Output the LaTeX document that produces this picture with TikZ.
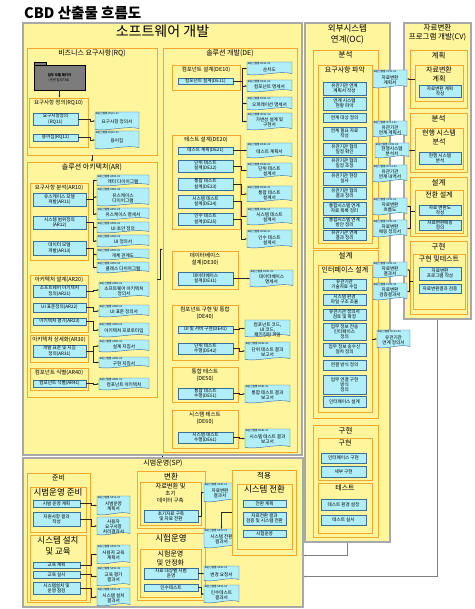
\documentclass[tikz,border=0pt]{standalone}
\usepackage{fontspec}
\setmainfont{Noto Sans CJK KR}
\usepackage{tikz}
\usetikzlibrary{arrows.meta}

\definecolor{boxyellow}{HTML}{FFF59C}
\definecolor{secline}{HTML}{F0A830}
\definecolor{outline}{HTML}{A8A8A8}
\definecolor{leafcyan}{HTML}{B0EEF8}
\definecolor{leafline}{HTML}{3C6E9C}
\definecolor{darkbox}{HTML}{7C7C7C}

\newcommand{\hsz}{\fontsize{2.6}{3}\selectfont}
\newcommand{\lsz}{\fontsize{4.6}{5.1}\selectfont}

% box from corner to corner: style, name, x1, y1, x2, y2, text
\newcommand{\putbox}[7]{%
  \node[#1, minimum width={#5pt-#3pt}, minimum height={#6pt-#4pt}] (#2) at ({(#3+#5)/2},{(#4+#6)/2}) {#7};}
% section box with its title on top
\newcommand{\putsec}[8]{%
  \putbox{#1}{#3}{#4}{#5}{#6}{#7}{}
  \node[sectitle, #2] (#3-t) at ([yshift=-1.5pt]#3.north) {#8};}
% document with wavy bottom: name, x1, y1, x2, y2, code, text
\newcommand{\putdoc}[7]{%
  \draw[docshape] (#2,#3) -- (#4,#3) -- (#4,{#5-1.5}) .. controls ({#4-0.3*(#4-#2)},{#5-4.5}) and ({#2+0.3*(#4-#2)},{#5+1.5}) .. (#2,{#5-0.5}) -- cycle;
  \node[docbox, minimum width={#4pt-#2pt}, minimum height={#5pt-#3pt}] (#1) at ({(#2+#4)/2},{(#3+#5)/2}) {};
  \node[dochead] (#1-h) at ([shift={(0.6pt,-0.4pt)}]#1.north west) {#6};
  \node[doctext] (#1-x) at ([yshift=-1pt]#1.center) {#7};}

\tikzset{
  outerbox/.style={draw=outline, fill=boxyellow, line width=1.2pt},
  secbox/.style={draw=secline, fill=boxyellow, line width=0.8pt},
  leaf/.style={draw=leafline, fill=leafcyan, line width=0.45pt, inner sep=0pt, align=center, font=\lsz},
  bmbox/.style={draw=black, fill=darkbox, line width=0.5pt, inner sep=1pt, align=left, font=\fontsize{3.4}{5}\selectfont},
  sectitle/.style={anchor=north, inner sep=0.5pt, align=center},
  ttlh/.style={font=\fontsize{14}{16}\selectfont},
  ttlb/.style={font=\fontsize{8.5}{10.5}\selectfont},
  ttlm/.style={font=\fontsize{7.5}{9}\selectfont},
  ttlr/.style={font=\fontsize{7}{8.5}\selectfont},
  ttls/.style={font=\fontsize{5.5}{6.8}\selectfont},
  docshape/.style={draw=leafline, fill=leafcyan, line width=0.45pt},
  docbox/.style={inner sep=0pt},
  dochead/.style={anchor=north west, inner sep=0pt, font=\hsz},
  doctext/.style={inner sep=0pt, align=center, font=\lsz},
  link/.style={-{Stealth[length=2.2pt,width=1.8pt]}, line width=0.45pt, draw=black!85}
}

\begin{document}
\begin{tikzpicture}[x=1pt,y=-1pt]
  \useasboundingbox (0,0) rectangle (474,609);
  \node[font=\fontsize{14.5}{16}\selectfont\bfseries, anchor=west, inner sep=0pt] (title) at (24,13) {CBD 산출물 흐름도};

  % outer boxes
  \putsec{outerbox}{ttlh}{sw}{23}{23}{302}{455}{소프트웨어 개발}
  \putsec{outerbox}{ttlb}{oc}{305}{23}{390}{542}{외부시스템\\연계(OC)}
  \putsec{outerbox}{ttlm}{cv}{404}{23}{471}{319}{자료변환\\프로그램 개발(CV)}
  \putsec{outerbox}{ttlr}{sp}{23}{458}{303}{607}{시범운영(SP)}

  % business requirements
  \putsec{secbox}{ttlr}{rq}{27}{48}{157}{155}{비즈니스 요구사항(RQ)}
  \draw[fill=darkbox, draw=black, line width=0.5pt] (34,62.5) rectangle (46,65);
  \putbox{bmbox}{rqbm}{34}{65}{85}{90}{\textbf{업무 모델 패키지}\\ • 관련 업무자료}
  \putsec{secbox}{ttls}{rq10}{29}{98}{88}{147}{요구사항 정의(RQ10)}
  \putbox{leaf}{rq11}{33}{113}{78}{125}{요구사항정의\\(RQ11)}
  \putbox{leaf}{rq12}{33}{134}{78}{141}{용어집(RQ12)}
  \putdoc{drq11}{95}{112}{139}{130}{표준산출물-RQ11-01}{요구사항 정의서}
  \putdoc{drq12}{95}{131}{139}{149}{표준산출물-RQ12-01}{용어집}

  % solution architecture
  \putsec{secbox}{ttlr}{ar}{27}{162}{157}{397}{솔루션 아키텍처(AR)}
  \putsec{secbox}{ttls}{ar10}{30}{183}{88}{260}{요구사항 분석(AR10)}
  \putbox{leaf}{ar11}{33}{193}{86}{206}{유스케이스 모델\\개발(AR11)}
  \putbox{leaf}{ar12}{33}{216}{86}{229}{시스템 범위정의\\(AR12)}
  \putbox{leaf}{ar13}{33}{241}{86}{255}{데이터 모델\\개발(AR13)}
  \putdoc{dar1}{97}{175}{149}{186}{표준산출물-AR11-01}{액터 다이어그램}
  \putdoc{dar2}{97}{188}{149}{206}{표준산출물-AR11-02}{유스케이스\\다이어그램}
  \putdoc{dar3}{97}{208}{149}{220}{표준산출물-AR11-03}{유스케이스 명세서}
  \putdoc{dar4}{97}{222}{149}{233}{표준산출물-AR12-01}{UI 초안 정의}
  \putdoc{dar5}{97}{235}{149}{247}{표준산출물-AR12-02}{UI 정의서}
  \putdoc{dar6}{97}{249}{149}{260}{표준산출물-AR13-01}{개체 관계도}
  \putdoc{dar7}{97}{262}{149}{273}{표준산출물-AR13-02}{클래스 다이어그램}

  \putsec{secbox}{ttls}{ar20}{30}{275}{88}{332}{아키텍처 설계(AR20)}
  \putbox{leaf}{ar21}{33}{285}{86}{297}{소프트웨어 아키텍처\\정의(AR21)}
  \putbox{leaf}{ar22}{33}{303}{86}{312}{UI 표준정의(AR22)}
  \putbox{leaf}{ar23}{33}{318}{86}{325}{아키텍처 평가(AR23)}
  \putdoc{dar21}{99}{282}{149}{298}{표준산출물-AR21-01}{소프트웨어 아키텍처\\정의서}
  \putdoc{dar22}{99}{305}{149}{317}{표준산출물-AR22-01}{UI 표준 정의서}
  \putdoc{dar23}{99}{323}{149}{337}{표준산출물-AR23-01}{아키텍처 프로토타입}

  \putsec{secbox}{ttls}{ar30}{30}{335}{88}{362}{아키텍처 상세화(AR30)}
  \putbox{leaf}{ar31}{33}{345}{86}{357}{개발 표준 및 지침\\정의(AR31)}
  \putdoc{dar31}{99}{340}{149}{352}{표준산출물-AR31-01}{설계 지침서}
  \putdoc{dar32}{99}{357}{149}{368}{표준산출물-AR31-02}{구현 지침서}

  \putsec{secbox}{ttls}{ar40}{30}{368}{88}{390}{컴포넌트 식별(AR40)}
  \putbox{leaf}{ar41}{33}{380}{86}{387}{컴포넌트 식별(AR41)}
  \putdoc{dar41}{99}{378}{149}{390}{표준산출물-AR41-01}{컴포넌트 아키텍처}

  % solution development
  \putsec{secbox}{ttlr}{de}{163}{48}{297}{452}{솔루션 개발(DE)}
  \putsec{secbox}{ttls}{de10}{172}{65}{240}{90}{컴포넌트 설계(DE10)}
  \putbox{leaf}{de11}{178}{78}{233}{84}{컴포넌트 설계(DE11)}
  \putdoc{dde1}{247}{62}{292}{75}{표준산출물-DE11-01}{순차도}
  \putdoc{dde2}{247}{80}{292}{92}{표준산출물-DE11-02}{컴포넌트 명세서}
  \putdoc{dde3}{247}{97}{292}{110}{표준산출물-DE11-03}{오퍼레이션 명세서}
  \putdoc{dde4}{247}{113}{292}{130}{표준산출물-DE11-04}{가변성 설계 및\\구현서}

  \putsec{secbox}{ttls}{de20}{172}{135}{240}{229}{테스트 설계(DE20)}
  \putbox{leaf}{de21}{178}{147}{233}{154}{테스트 계획(DE21)}
  \putbox{leaf}{de22}{178}{160}{233}{172}{단위 테스트\\설계(DE22)}
  \putbox{leaf}{de23}{178}{178}{233}{190}{통합 테스트\\설계(DE23)}
  \putbox{leaf}{de24}{178}{195}{233}{208}{시스템 테스트\\설계(DE24)}
  \putbox{leaf}{de25}{178}{213}{233}{225}{인수 테스트\\설계(DE25)}
  \putdoc{dde21}{247}{143}{292}{158}{표준산출물-DE21-01}{테스트 계획서}
  \putdoc{dde22}{247}{163}{292}{178}{표준산출물-DE22-01}{단위 테스트\\설계서}
  \putdoc{dde23}{247}{186}{292}{202}{표준산출물-DE23-01}{통합 테스트\\설계서}
  \putdoc{dde24}{247}{208}{292}{225}{표준산출물-DE24-01}{시스템 테스트\\설계서}
  \putdoc{dde25}{247}{230}{292}{248}{표준산출물-DE25-01}{인수 테스트\\설계서}

  \putsec{secbox}{ttls}{de30}{172}{251}{238}{289}{데이터베이스\\설계(DE30)}
  \putbox{leaf}{de31}{178}{272}{233}{285}{데이터베이스\\설계(DE31)}
  \putdoc{dde31}{250}{270}{293}{287}{표준산출물-DE31-01}{데이터베이스\\명세서}

  \putsec{secbox}{ttls}{de40}{172}{305}{238}{360}{컴포넌트 구현 및 통합\\(DE40)}
  \putbox{leaf}{de41}{178}{326}{233}{333}{UI 및 서버 구현(DE41)}
  \putbox{leaf}{de42}{178}{343}{233}{354}{단위 테스트\\수행(DE42)}
  \putdoc{dde41}{245}{320}{290}{337}{}{컴포넌트 코드,\\UI 코드,\\패키징된 파일}
  \putdoc{dde42}{245}{342}{290}{360}{표준산출물-DE42-01}{단위 테스트 결과\\보고서}

  \putsec{secbox}{ttls}{de50}{172}{367}{238}{402}{통합 테스트\\(DE50)}
  \putbox{leaf}{de51}{178}{388}{233}{399}{통합 테스트\\수행(DE51)}
  \putdoc{dde51}{245}{385}{290}{403}{표준산출물-DE51-01}{통합 테스트 결과\\보고서}

  \putsec{secbox}{ttls}{de60}{172}{410}{238}{448}{시스템 테스트\\(DE60)}
  \putbox{leaf}{de61}{178}{432}{233}{443}{시스템 테스트\\수행(DE61)}
  \putdoc{dde61}{245}{429}{290}{448}{표준산출물-DE61-01}{시스템 테스트 결과\\보고서}

  % external system link
  \putsec{secbox}{ttlm}{oc-an}{313}{50}{378}{248}{분석}
  \putsec{secbox}{ttlr}{oc-req}{318}{65}{372}{243}{요구사항 파악}
  \putbox{leaf}{oc1}{323}{82}{366}{95}{유관기관 연계\\계획서 작성}
  \putbox{leaf}{oc2}{323}{97}{366}{110}{연계 시스템\\현황 파악}
  \putbox{leaf}{oc3}{323}{113}{366}{122}{연계 대상 정의}
  \putbox{leaf}{oc4}{323}{127}{366}{140}{연계 필요 자료\\작성}
  \putbox{leaf}{oc5}{323}{143}{366}{155}{유관기관 협의\\일정 확인}
  \putbox{leaf}{oc6}{323}{157}{366}{169}{유관기관 협의\\일정 조정}
  \putbox{leaf}{oc7}{323}{172}{366}{185}{유관기관 현장\\실사}
  \putbox{leaf}{oc8}{323}{187}{366}{199}{유관기관 협의\\결과 정리}
  \putbox{leaf}{oc9}{323}{202}{366}{215}{통합시스템 연계\\자료 목록 정리}
  \putbox{leaf}{oc10}{323}{217}{366}{228}{통합시스템 연계\\방안 정리}
  \putbox{leaf}{oc11}{323}{230}{366}{240}{유관기관 연계\\결과 정리}

  \putsec{secbox}{ttlm}{oc-ds}{313}{250}{378}{418}{설계}
  \putsec{secbox}{ttlr}{oc-if}{318}{265}{372}{412}{인터페이스 설계}
  \putbox{leaf}{oi1}{323}{279}{366}{290}{유관기관\\기술자료 수집}
  \putbox{leaf}{oi2}{323}{294}{366}{305}{시스템 환경\\파일 구조 조율}
  \putbox{leaf}{oi3}{323}{309}{366}{320}{유관기관 정의서\\검토 및 확정}
  \putbox{leaf}{oi4}{323}{323}{366}{340}{업무 정보 전송\\인터페이스\\정의}
  \putbox{leaf}{oi5}{323}{343}{366}{356}{업무 정보 송수신\\절차 정의}
  \putbox{leaf}{oi6}{323}{360}{366}{370}{연결 방식 정의}
  \putbox{leaf}{oi7}{323}{375}{366}{394}{업무 연결 구현\\방식\\정의}
  \putbox{leaf}{oi8}{323}{396}{366}{407}{인터페이스 설계}

  \putsec{secbox}{ttlm}{oc-im}{313}{425}{378}{537}{구현}
  \putsec{secbox}{ttlr}{oc-im1}{318}{438}{372}{480}{구현}
  \putbox{leaf}{om1}{321}{453}{366}{463}{인터페이스 구현}
  \putbox{leaf}{om2}{321}{466}{366}{477}{세부 구현}
  \putsec{secbox}{ttlr}{oc-ts}{318}{483}{372}{533}{테스트}
  \putbox{leaf}{ot1}{321}{499}{366}{510}{테스트 환경 설정}
  \putbox{leaf}{ot2}{321}{515}{366}{525}{테스트 실시}

  % data conversion
  \putsec{secbox}{ttlm}{cv-pl}{410}{50}{467}{108}{계획}
  \putsec{secbox}{ttlr}{cv-pl1}{415}{65}{463}{101}{자료변환\\계획}
  \putbox{leaf}{cp1}{419}{85}{461}{97}{자료변환 계획\\작성}
  \putsec{secbox}{ttlm}{cv-an}{410}{113}{467}{172}{분석}
  \putsec{secbox}{ttlr}{cv-an1}{415}{128}{463}{169}{현행 시스템\\분석}
  \putbox{leaf}{ca1}{419}{152}{461}{164}{현행 시스템\\분석}
  \putsec{secbox}{ttlm}{cv-ds}{410}{177}{467}{236}{설계}
  \putsec{secbox}{ttlr}{cv-ds1}{415}{190}{463}{233}{전환 설계}
  \putbox{leaf}{cd1}{419}{205}{461}{215}{자료 변환도\\작성}
  \putbox{leaf}{cd2}{419}{220}{461}{230}{자료변환매핑\\정의}
  \putsec{secbox}{ttlm}{cv-im}{410}{241}{467}{314}{구현}
  \putsec{secbox}{ttlr}{cv-im1}{413}{254}{465}{309}{구현 및테스트}
  \putbox{leaf}{ci1}{419}{267}{461}{280}{자료변환\\프로그램 작성}
  \putbox{leaf}{ci2}{419}{284}{461}{293}{자료변환결과 검증}

  % documents between OC and CV
  \putdoc{g1}{373}{70}{407}{88}{표준산출물-CV11-01}{자료변환\\계획서}
  \putdoc{g2}{373}{121}{407}{137}{표준산출물-OC11-01}{유관기관\\연계 계획서}
  \putdoc{g3}{375}{143}{409}{158}{표준산출물-CV21-01}{현행시스템\\분석서}
  \putdoc{g4}{373}{165}{407}{182}{표준산출물-OC12-01}{유관기관\\연계 내역서}
  \putdoc{g5}{373}{198}{407}{215}{표준산출물-CV31-01}{자료변환\\흐름도}
  \putdoc{g6}{373}{220}{407}{237}{표준산출물-CV31-02}{자료변환\\매핑 정의서}
  \putdoc{g7}{373}{262}{407}{278}{표준산출물-CV41-01}{자료변환\\결과서}
  \putdoc{g8}{373}{283}{407}{300}{표준산출물-CV41-02}{자료변환\\검증결과서}
  \putdoc{g9}{377}{330}{410}{348}{표준산출물-OC21-01}{유관기관\\연계 정의서}

  % pilot operation
  \putsec{secbox}{ttlr}{sp-pr}{27}{473}{90}{602}{준비}
  \putsec{secbox}{ttlb}{sp-pr1}{30}{487}{86}{532}{시범운영 준비}
  \putbox{leaf}{p1}{33}{500}{80}{507}{시범 운영 계획}
  \putbox{leaf}{p2}{33}{512}{80}{526}{지원사항 결과\\작성}
  \putsec{secbox}{ttlb}{sp-in}{30}{535}{86}{600}{시스템 설치\\및 교육}
  \putbox{leaf}{i1}{33}{562}{80}{568}{교육 계획}
  \putbox{leaf}{i2}{33}{571}{80}{578}{교육 실시}
  \putbox{leaf}{i3}{33}{582}{80}{594}{시스템설치 및\\운영 점검}
  \putdoc{dp1}{97}{496}{130}{515}{표준산출물-SP11-01}{시범운영\\계획서}
  \putdoc{dp2}{97}{517}{130}{535}{}{사용자\\요구사항\\처리결과서}
  \putdoc{dp3}{97}{545}{130}{564}{표준산출물-SP21-01}{사용자 교육\\계획서}
  \putdoc{dp4}{97}{567}{130}{586}{표준산출물-SP21-02}{교육 평가\\결과서}
  \putdoc{dp5}{97}{588}{130}{606}{표준산출물-SP21-03}{시스템 설치\\결과서}

  \putsec{secbox}{ttlm}{sp-cv}{137}{471}{205}{528}{변환}
  \putsec{secbox}{ttls}{sp-cv1}{140}{482}{201}{525}{\fontsize{6.2}{7.6}\selectfont 자료변환 및\\초기\\데이터 구축}
  \putbox{leaf}{v1}{144}{510}{198}{522}{초기자료 구축\\및 자료 전환}
  \putdoc{dv1}{204}{483}{236}{502}{표준산출물-SP31-01}{자료변환\\결과서}
  \putsec{secbox}{ttlb}{sp-op}{137}{533}{205}{600}{시험운영}
  \putsec{secbox}{ttlr}{sp-op1}{140}{549}{201}{597}{시험운영\\및 안정화}
  \putbox{leaf}{o1}{144}{568}{198}{579}{자료 대상별 시범\\운영}
  \putbox{leaf}{o2}{144}{584}{198}{591}{인수테스트}
  \putdoc{do1}{204}{529}{239}{548}{표준산출물-SP32-01}{시스템 전환\\결과서}
  \putdoc{do2}{204}{566}{239}{581}{표준산출물-SP41-01}{변경 요청서}
  \putdoc{do3}{204}{585}{239}{603}{표준산출물-SP41-02}{인수테스트\\결과서}

  \putsec{secbox}{ttlm}{sp-ap}{232}{470}{296}{555}{적용}
  \putsec{secbox}{ttlb}{sp-ap1}{237}{484}{292}{549}{시스템 전환}
  \putbox{leaf}{a1}{243}{500}{286}{507}{전환 계획}
  \putbox{leaf}{a2}{243}{512}{286}{525}{자료전환 결과\\검증 및 시스템 전환}
  \putbox{leaf}{a3}{243}{530}{286}{537}{시험운영}

  % connectors
  \draw[link] (rqbm.south) -- (rqbm.south |- rq10.north);
  \draw[link] (rq11.east) -- ++(12,0) |- (drq11.west);
  \draw[link] (rq12.east) -- ++(12,0) |- (drq12.west);
  \draw[link] (rq.south) -- (ar.north);

  \draw[link] (ar11.east) -- ++(7,0) |- (dar1.west);
  \draw[link] (ar11.east) -- ++(7,0) |- (dar2.west);
  \draw[link] (ar11.east) -- ++(7,0) |- (dar3.west);
  \draw[link] (ar12.east) -- ++(7,0) |- (dar4.west);
  \draw[link] (ar12.east) -- ++(7,0) |- (dar5.west);
  \draw[link] (ar13.east) -- ++(7,0) |- (dar6.west);
  \draw[link] (ar13.east) -- ++(7,0) |- (dar7.west);
  \draw[link] (ar21.east) -- ++(7,0) |- (dar21.west);
  \draw[link] (ar22.east) -- ++(7,0) |- (dar22.west);
  \draw[link] (ar23.east) -- ++(7,0) |- (dar23.west);
  \draw[link] (ar31.east) -- ++(7,0) |- (dar31.west);
  \draw[link] (ar31.east) -- ++(7,0) |- (dar32.west);
  \draw[link] (ar41.east) -- ++(7,0) |- (dar41.west);
  \draw[link] (ar.east) -- ++(3,0) |- ([yshift=30pt]ar.east -| de.west);

  \draw[link] (de11.east) -- ++(9,0) |- (dde1.west);
  \draw[link] (de11.east) -- ++(9,0) |- (dde2.west);
  \draw[link] (de11.east) -- ++(9,0) |- (dde3.west);
  \draw[link] (de11.east) -- ++(9,0) |- (dde4.west);
  \draw[link] (de21.east) -- (dde21.west);
  \draw[link] (de22.east) -- ++(8,0) |- (dde22.west);
  \draw[link] (de23.east) -- ++(8,0) |- (dde23.west);
  \draw[link] (de24.east) -- ++(8,0) |- (dde24.west);
  \draw[link] (de25.east) -- ++(8,0) |- (dde25.west);
  \draw[link] (de31.east) -- ++(8,0) |- (dde31.west);
  \draw[link] (de41.east) -- ++(6,0) |- (dde41.west);
  \draw[link] (de42.east) -- ++(6,0) |- (dde42.west);
  \draw[link] (de51.east) -- ++(6,0) |- (dde51.west);
  \draw[link] (de61.east) -- ++(6,0) |- (dde61.west);

  \draw[link] (cv-pl1.west |- g1.east) -- (g1.east);
  \draw[link] (cv-an1.west |- g3.east) -- (g3.east);
  \draw[link] (cv-ds1.west) -- ++(-4,0) |- (g5.east);
  \draw[link] (cv-ds1.west) -- ++(-4,0) |- (g6.east);
  \draw[link] (cv-im1.west) -- ++(-3,0) |- (g7.east);
  \draw[link] (cv-im1.west) -- ++(-3,0) |- (g8.east);
  \draw[link] (oc-if.east |- g9.west) -- (g9.west);

  \draw[link] (p1.east) -- ++(11,0) |- (dp1.west);
  \draw[link] (p2.east) -- ++(11,0) |- (dp2.west);
  \draw[link] (i1.east) -- ++(11,0) |- (dp3.west);
  \draw[link] (i2.east) -- ++(11,0) |- (dp4.west);
  \draw[link] (i3.east) -- ++(11,0) |- (dp5.west);
  \draw[link] (v1.east) -- ++(3,0) |- (dv1.west);
  \draw[link] (sp-ap.west) -| (do1.north);
  \draw[link] (o1.east) -- ++(3,0) |- (do2.west);
  \draw[link] (o2.east) -- ++(3,0) |- (do3.west);

  \draw (sw.south -| de.west) -- (sp.north -| de.west);
  \draw[link, draw=gray] (oc.south) |- ([yshift=-13pt]oc.south -| sp.east);
  \draw[link, draw=gray] (cv.south) |- ([yshift=-257pt]cv.south -| sp.east);
\end{tikzpicture}
\end{document}
